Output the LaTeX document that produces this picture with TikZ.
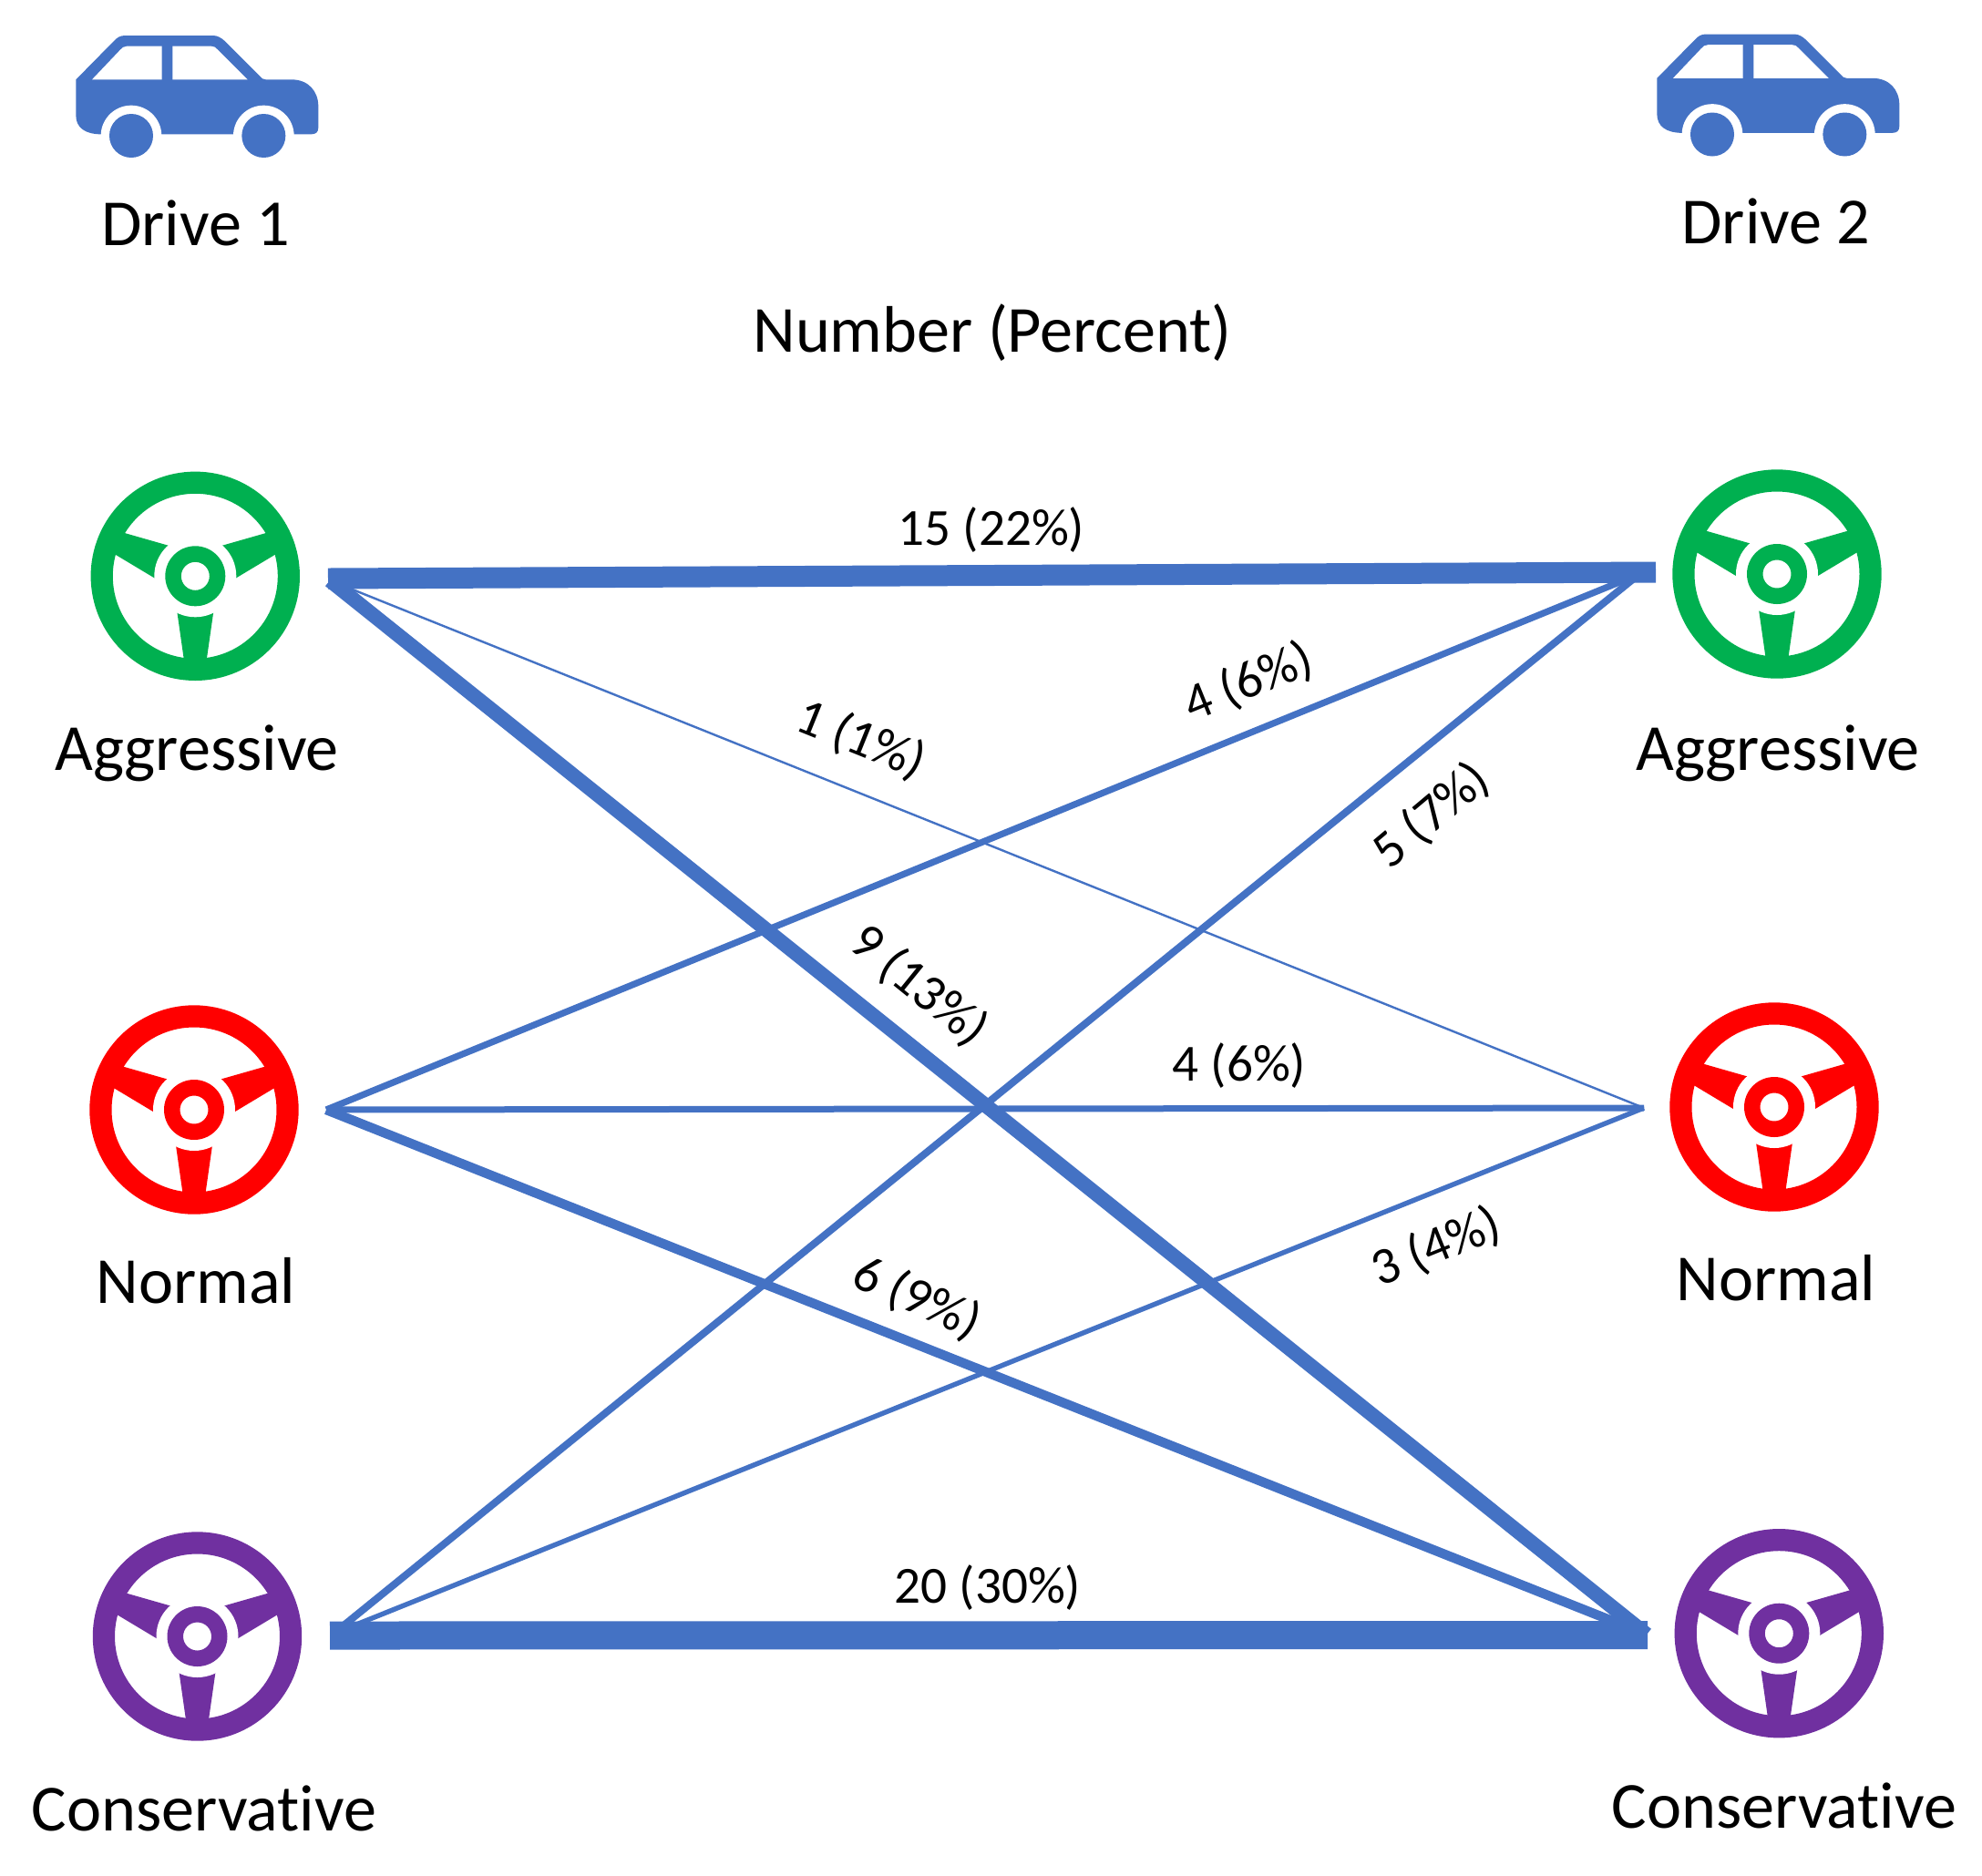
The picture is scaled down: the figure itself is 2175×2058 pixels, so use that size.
\documentclass[tikz,border=0pt]{standalone}
\usepackage{fontspec}
\setmainfont{Carlito}[Ligatures=NoCommon,Kerning=On]
\definecolor{lineblue}{HTML}{4472C4}
\definecolor{aggr}{HTML}{00B050}
\definecolor{norm}{HTML}{FF0000}
\definecolor{cons}{HTML}{7030A0}
\tikzset{
  big/.style={font=\fontsize{36.1}{42}\selectfont,anchor=base,inner sep=0pt,text=black},
  small/.style={font=\fontsize{28.6}{33}\selectfont,inner sep=0pt,text=black},
  link/.style={draw=lineblue,line width=#1},
  pics/wheel/.style={code={
    \fill[#1] (-87,-50)--(-100,-31)--(-30,11)--(-10,-28)--cycle;
    \fill[#1] (87,-50)--(100,-31)--(30,11)--(10,-28)--cycle;
    \fill[#1] (-22,25)--(22,25)--(12,95)--(-12,95)--cycle;
    \fill[white] (0,0) circle[radius=45];
    \fill[#1,even odd rule] (0,0) circle[radius=114.7] (0,0) circle[radius=90.5];
    \fill[#1,even odd rule] (0,0) circle[radius=33] (0,0) circle[radius=15.5];
  }},
  pics/car/.style={code={
    \begin{scope}[scale=1/3]
    \fill[lineblue] (250,262)--(375,135) .. controls (385,124) and (395,117) .. (412,117)
      --(700,117) .. controls (717,117) and (727,124) .. (740,135)
      --(855,250) .. controls (862,258) and (866,262) .. (875,262)
      --(960,262) .. controls (1015,262) and (1048,300) .. (1048,350)
      --(1048,420) .. controls (1048,435) and (1040,442) .. (1025,442)
      --(333,442) .. controls (280,442) and (250,420) .. (250,380)--cycle;
    \fill[white] (303,262)--(395,165) .. controls (402,157) and (408,152) .. (418,152)
      --(533,152)--(533,262)--cycle;
    \fill[white] (568,152)--(695,152) .. controls (705,152) and (710,156) .. (716,163)
      --(815,262)--(568,262)--cycle;
    \fill[white] (432,447) circle[radius=100] (868,447) circle[radius=100];
    \fill[lineblue] (432,447) circle[radius=72] (868,447) circle[radius=72];
    \end{scope}
  }}
}
\begin{document}
\begin{tikzpicture}[x=0.5pt,y=-0.5pt]
\useasboundingbox (0,0) rectangle (2175,2058);
% cars
\pic at (0,0) {car};
\pic at (1735,-1.5) {car};
% wheels
\pic at (214.3,632.3) {wheel=aggr};
\pic at (1950,630) {wheel=aggr};
\pic at (213,1218) {wheel=norm};
\pic at (1947,1215) {wheel=norm};
\pic at (216.5,1796) {wheel=cons};
\pic at (1952.3,1792.7) {wheel=cons};
% ports
\coordinate (a1) at (360,635);
\coordinate (a1b) at (362,637);
\coordinate (a2) at (1817,628);
\coordinate (a2b) at (1799,630);
\coordinate (n1) at (358,1218);
\coordinate (n2) at (1804,1216);
\coordinate (c1) at (362,1795);
\coordinate (c1b) at (366,1793);
\coordinate (c2) at (1808,1794.5);
\coordinate (c2b) at (1807,1794);
% links
\draw[link=11.5pt] (a1) -- (a2);
\draw[link=15.5pt] (c1) -- (c2);
\draw[link=8pt] (a1b) -- (c2b);
\draw[link=1.2pt] (a1b) -- (n2);
\draw[link=3.6pt] (n1) -- (a2b);
\draw[link=3.5pt] (n1) -- (n2);
\draw[link=5.2pt] (n1) -- (c2b);
\draw[link=4pt] (c1b) -- (a2b);
\draw[link=2.7pt] (c1b) -- (n2);
% headings
\node[big] (d1) at (214.5,269) {Drive 1};
\node[big] (d2) at (1949,267) {Drive 2};
\node[big] (np) at (1089,386) {Number (Percent)};
\node[big] (la1) at (216,845) {Aggressive};
\node[big] (la2) at (1951,845) {Aggressive};
\node[big] (ln1) at (215,1430) {Normal};
\node[big] (ln2) at (1949,1427) {Normal};
\node[big] (lc1) at (224,2009) {Conservative};
\node[big] (lc2) at (1958,2006) {Conservative};
% link labels
\node[small,anchor=base] (t1) at (1088,598) {15 (22\%)};
\node[small,rotate=-22] (t2) at (945,812) {1 (1\%)};
\node[small,rotate=22] (t3) at (1370,749) {4 (6\%)};
\node[small,rotate=40] (t4) at (1571,895) {5 (7\%)};
\node[small,rotate=-39] (t5) at (1008,1082) {9 (13\%)};
\node[small,anchor=base] (t6) at (1360,1186) {4 (6\%)};
\node[small,rotate=-24] (t7) at (1006,1425) {6 (9\%)};
\node[small,rotate=22] (t8) at (1576,1369) {3 (4\%)};
\node[small,anchor=base] (t9) at (1084,1759) {20 (30\%)};
\end{tikzpicture}
\end{document}
